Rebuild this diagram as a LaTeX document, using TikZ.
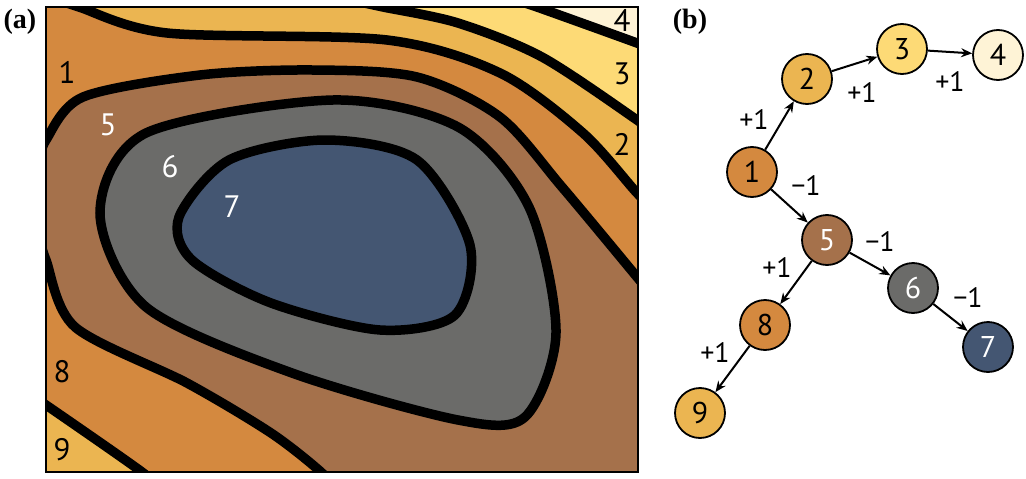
\documentclass[tikz,border=0pt]{standalone}
\usepackage{fontspec}
\setmainfont{PT Sans}
\newfontfamily\serifb{Liberation Serif}
\usetikzlibrary{arrows.meta}
\definecolor{cor}{HTML}{D4893F}
\definecolor{cye}{HTML}{EBB551}
\definecolor{cly}{HTML}{FDDA76}
\definecolor{ccr}{HTML}{FEF3D6}
\definecolor{cbr}{HTML}{A5714B}
\definecolor{cgr}{HTML}{6B6B69}
\definecolor{cbl}{HTML}{445672}
\tikzset{
 cl/.style={line width=9.5pt, black},
 lab/.style={font=\fontsize{31}{31}\selectfont, inner sep=0pt},
 st/.style={circle, draw=black, line width=1.8pt, minimum size=50pt, inner sep=0pt, font=\fontsize{30}{30}\selectfont},
 ar/.style={-{Stealth[length=11pt,width=9pt]}, line width=2pt},
 el/.style={font=\fontsize{28}{28}\selectfont, inner sep=1pt}
}
\begin{document}
\begin{tikzpicture}[x=1pt,y=-1pt]
\useasboundingbox (0,0) rectangle (1026,479);
\def\lA{(60,0)(79,7)(167,33)(387,40)(500,73)(583,133)(637,193)(660,215)}
\def\lB{(360,2)(383,7)(458,23)(542,57)(637,120)(660,138)}
\def\lC{(515,0)(537,7)(637,43)(660,52)}
\def\lD{(38,165)(46,140)(83,97)(200,75)(312,70)(417,77)(500,117)(562,187)(637,277)(660,305)}
\def\lE{(40,240)(46,260)(75,327)(187,383)(271,433)(321,472)(335,490)}
\def\lF{(30,395)(46,405)(142,472)(160,490)}
\def\lG{(100,213)(146,133)(333,100)(458,127)(529,207)(556,333)(525,417)(458,420)(292,373)(146,307)}
\def\lH{(179,217)(229,160)(325,140)(417,160)(470,245)(455,315)(380,330)(271,303)(192,260)}
\begin{scope}
\clip (46,7) rectangle (638,472);
\fill[cor] (40,0) rectangle (660,490);
\fill[cye] plot[smooth] coordinates {\lA} -- (660,-10) -- (60,-10) -- cycle;
\fill[cly] plot[smooth] coordinates {\lB} -- (660,-10) -- cycle;
\fill[ccr] plot[smooth] coordinates {\lC} -- (660,-10) -- cycle;
\fill[cbr] plot[smooth] coordinates {\lD} -- (660,490) -- plot[smooth] coordinates {(335,490)(321,472)(271,433)(187,383)(75,327)(46,260)(40,240)} -- cycle;
\fill[cye] plot[smooth] coordinates {\lF} -- (30,490) -- cycle;
\fill[cgr] plot[smooth cycle] coordinates {\lG};
\fill[cbl] plot[smooth cycle] coordinates {\lH};
\draw[cl] plot[smooth] coordinates {\lA};
\draw[cl] plot[smooth] coordinates {\lB};
\draw[cl] plot[smooth] coordinates {\lC};
\draw[cl] plot[smooth] coordinates {\lD};
\draw[cl] plot[smooth] coordinates {\lE};
\draw[cl] plot[smooth] coordinates {\lF};
\draw[cl] plot[smooth cycle] coordinates {\lG};
\draw[cl] plot[smooth cycle] coordinates {\lH};
\end{scope}
\draw[line width=1.3pt] (46,7) rectangle (638,472);
\node[font=\fontsize{28}{28}\selectfont\serifb\bfseries] (pa) at (20,22) {(a)};
\node[font=\fontsize{28}{28}\selectfont\serifb\bfseries] (pb) at (690,22) {(b)};
\node[lab] (t1) at (67,72) {1};
\node[lab,white] (t5) at (108,125) {5};
\node[lab,white] (t6) at (170,167) {6};
\node[lab,white] (t7) at (232,207) {7};
\node[lab] (t4) at (622,20) {4};
\node[lab] (t3) at (622,74) {3};
\node[lab] (t2) at (622,144) {2};
\node[lab] (t8) at (62,372) {8};
\node[lab] (t9) at (62,450) {9};
% panel b
\node[st,fill=cor] (n1) at (752,172) {1};
\node[st,fill=cye] (n2) at (807,79) {2};
\node[st,fill=cly] (n3) at (902,49) {3};
\node[st,fill=ccr] (n4) at (998,55) {4};
\node[st,fill=cbr,text=white] (n5) at (827,240) {5};
\node[st,fill=cgr,text=white] (n6) at (913,288) {6};
\node[st,fill=cbl,text=white] (n7) at (988,347) {7};
\node[st,fill=cor] (n8) at (765,325) {8};
\node[st,fill=cye] (n9) at (700,413) {9};
\draw[ar] (n1) -- (n2) node[el] at (754,120) {+1};
\draw[ar] (n2) -- (n3) node[el] at (862,93) {+1};
\draw[ar] (n3) -- (n4) node[el] at (950,82) {+1};
\draw[ar] (n1) -- (n5) node[el] at (806,186) {−1};
\draw[ar] (n5) -- (n6) node[el] at (880,242) {−1};
\draw[ar] (n5) -- (n8) node[el] at (777,268) {+1};
\draw[ar] (n6) -- (n7) node[el] at (968,298) {−1};
\draw[ar] (n8) -- (n9) node[el] at (715,353) {+1};
\end{tikzpicture}
\end{document}
